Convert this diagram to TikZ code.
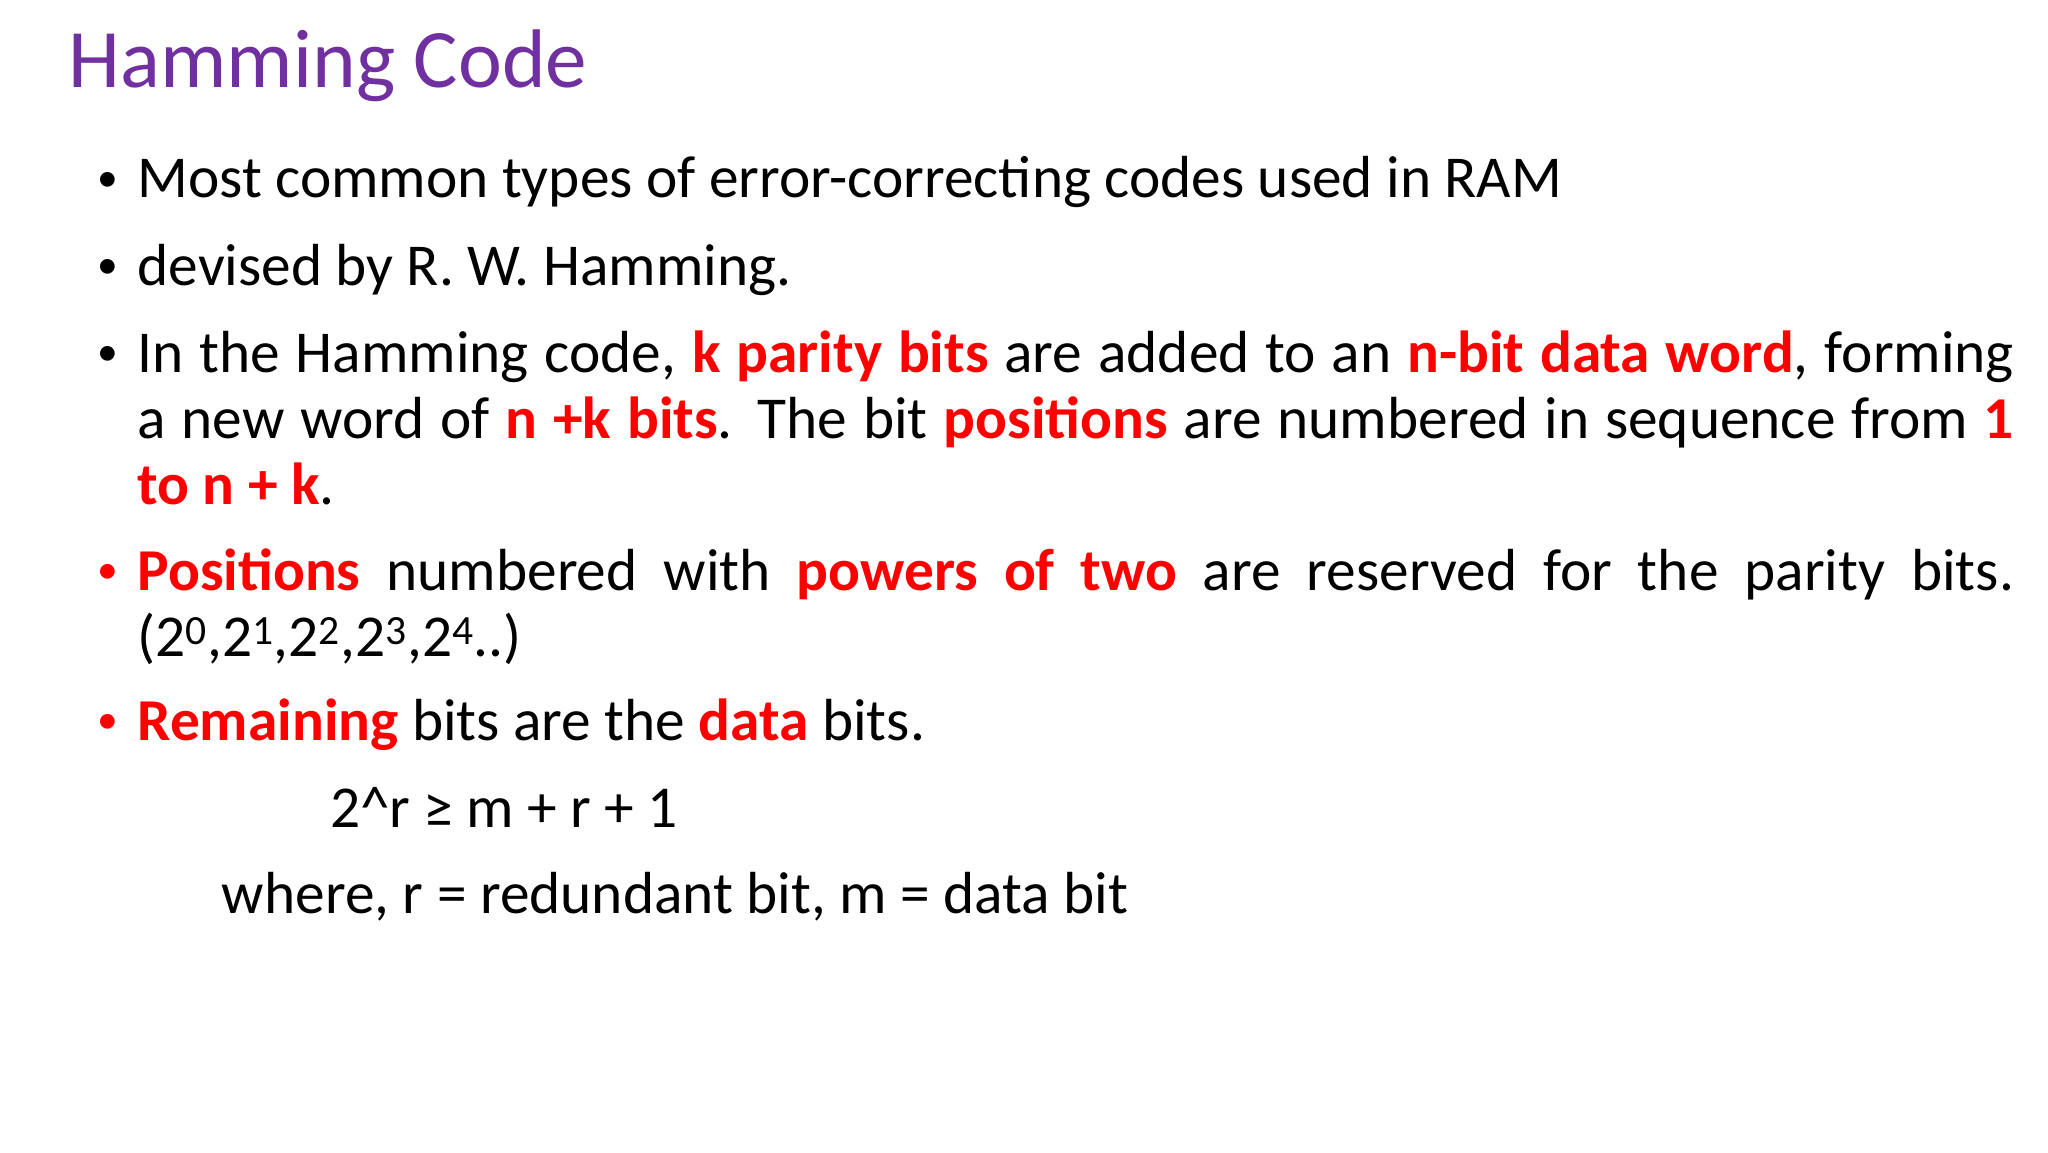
\documentclass[tikz,border=0pt]{standalone}
\usepackage{fontspec}
\setmainfont{Carlito}
\definecolor{ttl}{HTML}{7030A0}
\definecolor{hl}{HTML}{FF0000}
\newcommand{\hi}[1]{\textcolor{hl}{\textbf{#1}}}
\newcommand{\bul}{\raisebox{5pt}{\scalebox{0.7}{•}}}
\begin{document}
\begin{tikzpicture}[x=1pt,y=-1pt,
  txt/.style={inner sep=0pt,anchor=base west,font=\fontsize{45}{50}\selectfont},
  para/.style={inner sep=0pt,anchor=north west,text width=1422pt,align=justify,font=\fontsize{45}{50}\selectfont}]
\useasboundingbox[fill=white] (0,0) rectangle (1552,873);
\node[inner sep=0pt,anchor=base west,font=\fontsize{63}{66}\selectfont,text=ttl] (title) at (52,66) {Hamming Code};
\node[txt] (b1) at (74,150) {\bul};
\node[txt] (t1) at (104,150) {Most common types of error-correcting codes used in RAM};
\node[txt] (b2) at (74,216) {\bul};
\node[txt] (t2) at (104,216) {devised by R. W. Hamming.};
\node[txt] (b3) at (74,282) {\bul};
\node[para] (t3) at (104,247) {\strut In the Hamming code, \hi{k parity bits} are added to an \hi{n-bit data word}, forming\linebreak a new word of \hi{n +k bits}. The bit \hi{positions} are numbered in sequence from \hi{1}\linebreak \hi{to n + k}.};
\node[txt,text=hl] (b4) at (74,447) {\bul};
\node[para] (t4) at (104,412) {\strut \hi{Positions} numbered with \hi{powers of two} are reserved for the parity bits.\linebreak (2\textsuperscript{0},2\textsuperscript{1},2\textsuperscript{2},2\textsuperscript{3},2\textsuperscript{4}..)};
\node[txt,text=hl] (b5) at (74,561) {\bul};
\node[txt] (t5) at (104,561) {\hi{Remaining} bits are the \hi{data} bits.};
\node[txt] (f) at (250,627) {2\^{}r ≥ m + r + 1};
\node[txt] (w) at (168,692) {where, r = redundant bit, m = data bit};
\end{tikzpicture}
\end{document}
